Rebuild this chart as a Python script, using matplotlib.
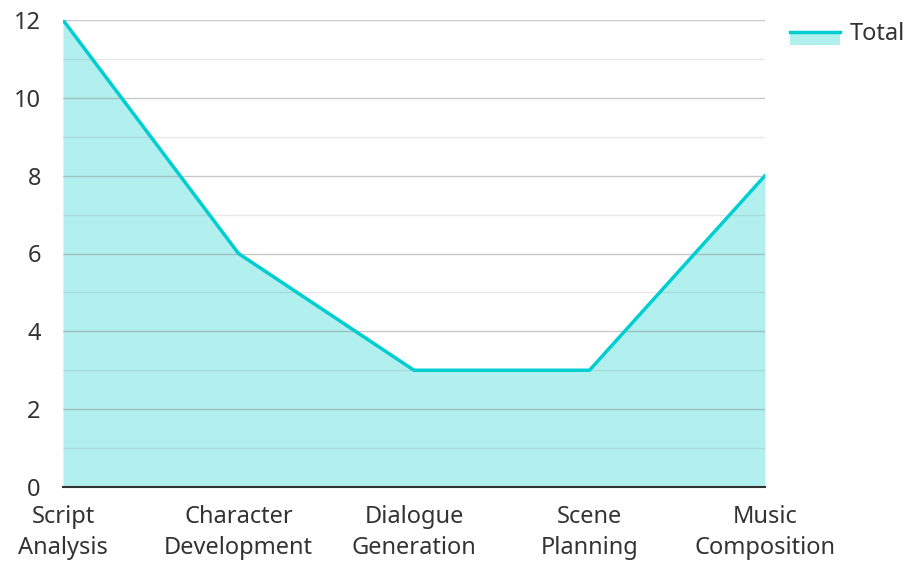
import matplotlib.pyplot as plt
from matplotlib.lines import Line2D
from matplotlib.patches import Rectangle
from matplotlib.legend_handler import HandlerBase

plt.rcParams['font.family'] = ['Noto Sans', 'DejaVu Sans']

categories = ['Script\nAnalysis', 'Character\nDevelopment', 'Dialogue\nGeneration',
              'Scene\nPlanning', 'Music\nComposition']
totals = [12, 6, 3, 3, 8]

line_color = '#00CED1'
fill_color = '#B2EFEF'
text_color = '#333333'


class AreaHandler(HandlerBase):
    # line at the text's mid height, with the fill below it
    def create_artists(self, legend, orig_handle, xdescent, ydescent,
                       width, height, fontsize, trans):
        mid = height / 2 - ydescent
        rect = Rectangle((-xdescent, mid - 9), width, 9, facecolor=fill_color,
                         edgecolor='none', transform=trans)
        line = Line2D([-xdescent, -xdescent + width], [mid, mid],
                      color=line_color, linewidth=2.5, transform=trans)
        return [rect, line]


fig = plt.figure(figsize=(9.06, 5.63), dpi=100)
ax = fig.add_axes([63 / 906, 1 - 487 / 563, (765 - 63) / 906, (487 - 20) / 563])

x = list(range(len(categories)))
ax.fill_between(x, totals, 0, color=fill_color, linewidth=0, zorder=1)
ax.plot(x, totals, color=line_color, linewidth=2.5, zorder=3)

ax.set_xlim(0, len(categories) - 1)
ax.set_ylim(0, 12)
ax.set_yticks(range(0, 13, 2))
ax.set_yticks(range(1, 13, 2), minor=True)
ax.set_xticks(x)
ax.set_xticklabels(categories, fontsize=17, color=text_color, linespacing=1.38)
ax.tick_params(axis='y', labelsize=17, colors=text_color, length=0, pad=16)
ax.tick_params(axis='y', which='minor', length=0)
ax.tick_params(axis='x', length=0, pad=13)

ax.grid(True, which='major', axis='y', color='#888888', linewidth=1, alpha=0.45, zorder=2)
ax.grid(True, which='minor', axis='y', color='#888888', linewidth=1, alpha=0.2, zorder=2)
ax.set_axisbelow(False)

for side in ['top', 'right', 'left']:
    ax.spines[side].set_visible(False)
ax.spines['bottom'].set_color(text_color)
ax.spines['bottom'].set_linewidth(1.5)
ax.spines['bottom'].set_zorder(4)

leg = fig.legend([object()], ['Total'], loc='upper left',
                 bbox_to_anchor=(781 / 906, 1 - 13 / 563), borderaxespad=0,
                 frameon=False, fontsize=17, handlelength=2.1, handleheight=0.5,
                 handletextpad=0.4, handler_map={object: AreaHandler()})
for t in leg.get_texts():
    t.set_color(text_color)

fig.savefig('out.png', dpi=100)
